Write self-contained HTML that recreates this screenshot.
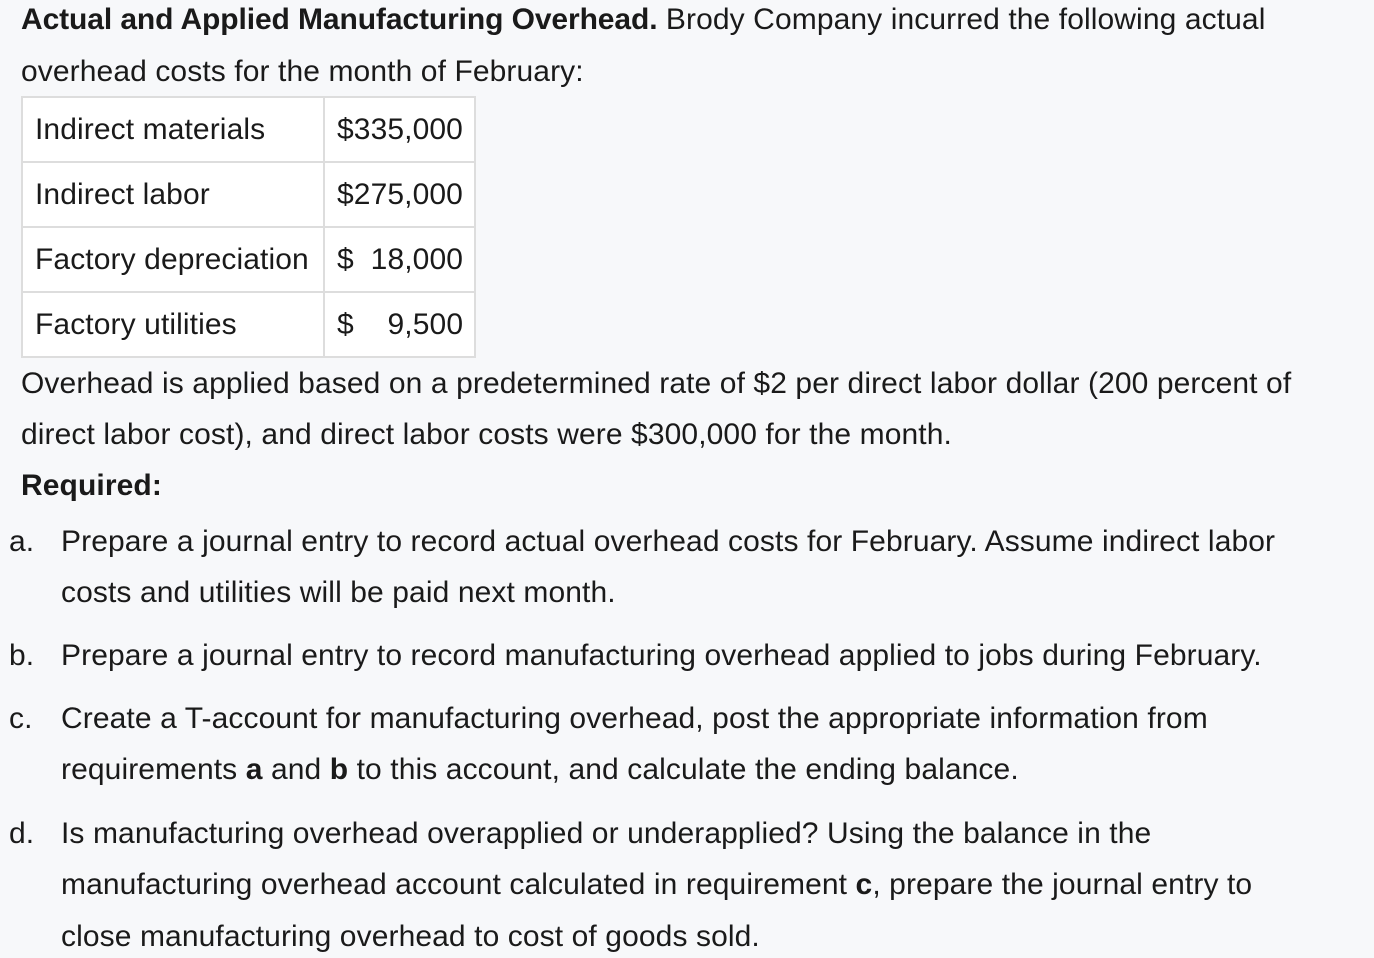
<!DOCTYPE html>
<html><head><meta charset="utf-8"><style>
body{margin:0;width:1374px;height:958px;background:#f7f8fa;font-family:"Liberation Sans",Arial,sans-serif;font-size:30px;color:#1a1a1a;position:relative;overflow:hidden;letter-spacing:0.1px}
.l{position:absolute;white-space:nowrap;line-height:40px}
table{position:absolute;left:21px;top:96px;border-collapse:collapse;background:#fff;table-layout:fixed;width:453px}
td{border:2px solid #ddd;height:65px;padding:0 12px;white-space:nowrap;box-sizing:border-box}
td.v{text-align:right}
</style></head><body>
<div class="l" style="left:21px;top:0px"><b style="letter-spacing:-0.1px">Actual and Applied Manufacturing Overhead.</b> Brody Company incurred the following actual</div>
<div class="l" style="left:21px;top:52px">overhead costs for the month of February:</div>
<table>
<col style="width:302px"><col style="width:151px">
<tr><td>Indirect materials</td><td class="v">$335,000</td></tr>
<tr><td>Indirect labor</td><td class="v">$275,000</td></tr>
<tr><td>Factory depreciation</td><td class="v">$&nbsp;&nbsp;18,000</td></tr>
<tr><td>Factory utilities</td><td class="v">$&nbsp;&nbsp;&nbsp;&nbsp;9,500</td></tr>
</table>
<div class="l" style="left:21px;top:364px">Overhead is applied based on a predetermined rate of $2 per direct labor dollar (200 percent of</div>
<div class="l" style="left:21px;top:415px">direct labor cost), and direct labor costs were $300,000 for the month.</div>
<div class="l" style="left:21px;top:466px"><b>Required:</b></div>
<div class="l" style="left:9px;top:522px">a.</div>
<div class="l" style="left:61px;top:522px">Prepare a journal entry to record actual overhead costs for February. Assume indirect labor</div>
<div class="l" style="left:61px;top:573px">costs and utilities will be paid next month.</div>
<div class="l" style="left:9px;top:636px">b.</div>
<div class="l" style="left:61px;top:636px">Prepare a journal entry to record manufacturing overhead applied to jobs during February.</div>
<div class="l" style="left:9px;top:699px">c.</div>
<div class="l" style="left:61px;top:699px">Create a T-account for manufacturing overhead, post the appropriate information from</div>
<div class="l" style="left:61px;top:750px">requirements <b>a</b> and <b>b</b> to this account, and calculate the ending balance.</div>
<div class="l" style="left:9px;top:814px">d.</div>
<div class="l" style="left:61px;top:814px">Is manufacturing overhead overapplied or underapplied? Using the balance in the</div>
<div class="l" style="left:61px;top:865px">manufacturing overhead account calculated in requirement <b>c</b>, prepare the journal entry to</div>
<div class="l" style="left:61px;top:917px">close manufacturing overhead to cost of goods sold.</div>
</body></html>
